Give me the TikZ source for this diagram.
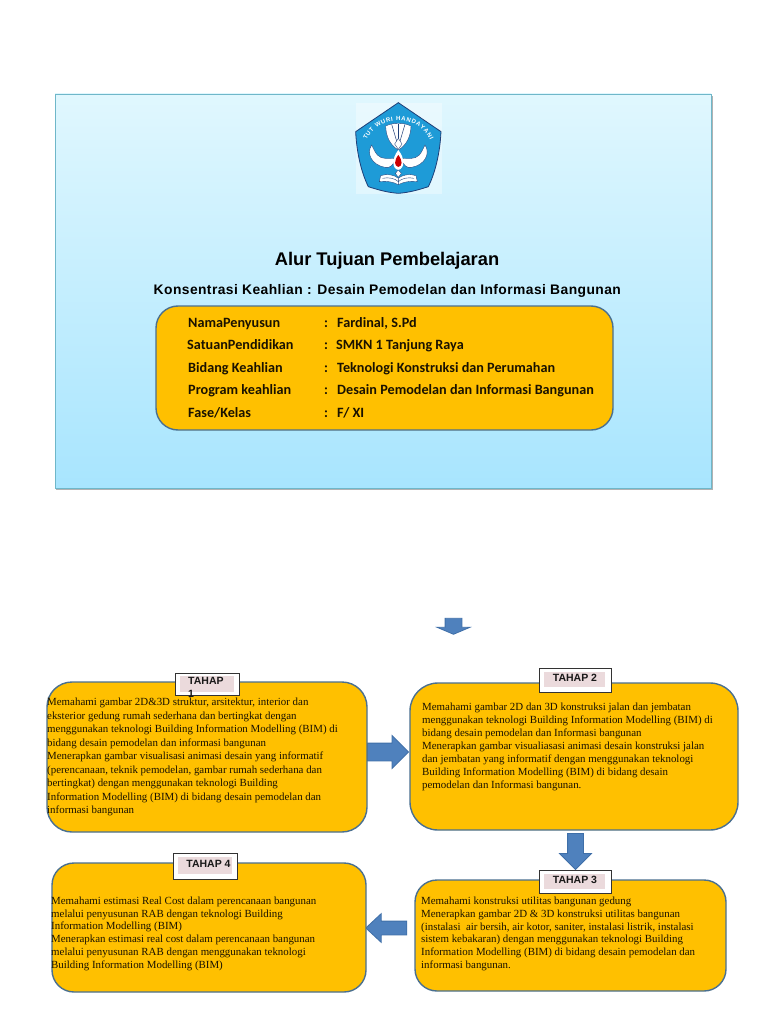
\documentclass[tikz,border=0pt]{standalone}
\usepackage{fontspec}
\setmainfont{Liberation Serif}
\newfontfamily\arialf{Liberation Sans}
\newfontfamily\carlf{Carlito}
\usetikzlibrary{shapes.arrows,decorations.text}
\definecolor{orangefill}{HTML}{FFC000}
\definecolor{boxline}{HTML}{4A7090}
\definecolor{arrowfill}{HTML}{4F81BD}
\definecolor{arrowline}{HTML}{3F6FA8}
\definecolor{pinkfill}{HTML}{EBDADC}
\definecolor{logoblue}{HTML}{1E9BD7}
\definecolor{logoline}{HTML}{1F3F78}
\definecolor{inktext}{HTML}{1A1200}
\definecolor{paneltop}{HTML}{E0F7FE}
\definecolor{panelbot}{HTML}{A8E5FE}
\definecolor{panelline}{HTML}{6FB7C9}
\tikzset{
  orangebox/.style={draw=boxline,line width=1.4pt,fill=orangefill},
  bodytext/.style={anchor=north west,inner sep=0pt,align=left,text=inktext,font=\fontsize{10.9}{#1}\selectfont},
  labelwhite/.style={draw=black!80,line width=1pt,fill=white},
  labelpink/.style={fill=pinkfill},
  tahaptext/.style={inner sep=0pt,font=\arialf\bfseries\fontsize{10.5}{13}\selectfont,text=black!90},
  blockarrow/.style={single arrow,draw=arrowline,line width=.8pt,fill=arrowfill,inner xsep=0pt,outer sep=0pt},
  rowtext/.style={anchor=base west,inner sep=0pt,font=\carlf\bfseries\fontsize{14.2}{16}\selectfont,text=inktext},
  logowhite/.style={fill=white,draw=logoline,line width=.35pt}
}
\begin{document}
\begin{tikzpicture}[x=1pt,y=-1pt]
\useasboundingbox (0,0) rectangle (768,1024);
\fill[white] (0,0) rectangle (768,1024);
% main panel
\fill[black!30] (56,96) rectangle (712.5,490);
\path[top color=paneltop,bottom color=panelbot,draw=panelline,line width=.8pt]
  (55,94) rectangle (711,488);
% logo
\fill[white,opacity=.35] (356,103) rectangle (442,194);
\begin{scope}[shift={(340,90)},x=.3333pt,y=-.3333pt]
  \draw[fill=logoblue,draw=logoline,line width=.8pt]
    (175,38) -- (303,125) .. controls (300,190) and (285,250) .. (265,290)
    .. controls (235,300) and (205,308) .. (175,310)
    .. controls (145,308) and (115,300) .. (85,290)
    .. controls (65,250) and (50,190) .. (47,125) -- cycle;
  % feather fan
  \draw[logowhite] (137,108) .. controls (160,97) and (190,97) .. (213,108)
    .. controls (212,140) and (200,165) .. (175,180)
    .. controls (150,165) and (138,140) .. (137,108) -- cycle;
  \foreach \xx in {155,175,195}
    \draw[logoline,line width=.5pt] (\xx,103) -- (175,170);
  \draw[logowhite] (175,145) -- (186,162) -- (175,178) -- (164,162) -- cycle;
  % wings
  \draw[logowhite] (95,165) .. controls (78,190) and (95,225) .. (135,232)
    .. controls (150,236) and (160,225) .. (168,205)
    .. controls (150,205) and (125,210) .. (112,195)
    .. controls (105,187) and (100,175) .. (95,165) -- cycle;
  \draw[logowhite] (255,165) .. controls (272,190) and (255,225) .. (215,232)
    .. controls (200,236) and (190,225) .. (182,205)
    .. controls (200,205) and (225,210) .. (238,195)
    .. controls (245,187) and (250,175) .. (255,165) -- cycle;
  % flame
  \fill[white] (175,180) .. controls (195,205) and (195,235) .. (175,240)
    .. controls (155,235) and (155,205) .. (175,180) -- cycle;
  \fill[red!80!black] (175,195) .. controls (188,212) and (188,228) .. (175,231)
    .. controls (162,228) and (162,212) .. (175,195) -- cycle;
  \draw[logowhite] (175,240) -- (184,250) -- (175,262) -- (166,250) -- cycle;
  % book
  \draw[logowhite] (122,257) .. controls (140,250) and (165,255) .. (175,265)
    .. controls (185,255) and (210,250) .. (228,257) -- (232,275)
    .. controls (210,272) and (190,276) .. (175,284)
    .. controls (160,276) and (140,272) .. (118,275) -- cycle;
  \draw[logoline,line width=.4pt] (175,265) -- (175,284) (128,265) .. controls (145,261) and (165,265) .. (175,275)
    .. controls (185,265) and (205,261) .. (222,265);
  % ring text
  \path[postaction={decorate},decoration={text along path,text align={fit to path},
      text={|\arialf\bfseries\fontsize{6}{7}\selectfont\color{white}|TUT WURI HANDAYANI}}]
    (80,150) .. controls (115,72) and (235,72) .. (270,150);
\end{scope}
% titles
\node[inner sep=0pt,font=\arialf\bfseries\fontsize{18.3}{21}\selectfont,text=black] (title) at (387,260.5) {Alur Tujuan Pembelajaran};
\node[inner sep=0pt,font=\arialf\fontsize{13.85}{17}\selectfont,text=black] (subtitle) at (387.5,290.5) {\addfontfeature{LetterSpace=3}\textbf{Konsentrasi Keahlian : Desain Pemodelan dan Informasi Bangunan}};
% header box
\draw[orangebox,rounded corners=22pt] (156,306) rectangle (613,430);
\node[rowtext] (l1) at (188,327) {NamaPenyusun};
\node[rowtext] (c1) at (324,327) {:};
\node[rowtext] (v1) at (337,327) {Fardinal, S.Pd};
\node[rowtext] (l2) at (187,349.5) {SatuanPendidikan};
\node[rowtext] (c2) at (324,349.5) {:};
\node[rowtext] (v2) at (336,349.5) {SMKN 1 Tanjung Raya};
\node[rowtext] (l3) at (188,372) {Bidang Keahlian};
\node[rowtext] (c3) at (324,372) {:};
\node[rowtext] (v3) at (337,372) {Teknologi Konstruksi dan Perumahan};
\node[rowtext] (l4) at (188,394.5) {Program keahlian};
\node[rowtext] (c4) at (324,394.5) {:};
\node[rowtext] (v4) at (337,394.5) {Desain Pemodelan dan Informasi Bangunan};
\node[rowtext] (l5) at (188,417) {Fase/Kelas};
\node[rowtext] (c5) at (324,417) {:};
\node[rowtext] (v5) at (337,417) {F/ XI};
% arrows
\node[blockarrow,rotate=-90,inner ysep=8pt,minimum height=16pt,single arrow head extend=8pt,single arrow tip angle=134] (atop) at (453.5,624.5) {};
\node[blockarrow,inner ysep=8.5pt,minimum height=41pt,single arrow head extend=7.5pt,single arrow tip angle=90] (a12) at (383.5,752) {};
\node[blockarrow,rotate=-90,inner ysep=7.5pt,minimum height=36pt,single arrow head extend=8pt,single arrow tip angle=90] (a23) at (575.5,847.5) {};
\node[blockarrow,rotate=180,inner ysep=6.5pt,minimum height=41pt,single arrow head extend=7.5pt,single arrow tip angle=86] (a34) at (390,928) {};
% stage boxes
\draw[orangebox,rounded corners=25pt] (47,682) rectangle (367,832);
\draw[orangebox,rounded corners=28pt] (410,683) rectangle (738,830);
\draw[orangebox,rounded corners=22pt] (415,880) rectangle (726,991);
\draw[orangebox,rounded corners=22pt] (52,863) rectangle (366,992);
% stage labels
\draw[labelwhite] (175,673) rectangle (239,695);
\fill[labelpink] (180,676) rectangle (234,692);
\node[tahaptext,anchor=north west,align=left] (t1) at (188,677) {TAHAP\\1};
\draw[labelwhite] (539,668) rectangle (611,692);
\fill[labelpink] (544,672) rectangle (605,687);
\node[tahaptext] (t2) at (575,678) {TAHAP 2};
\draw[labelwhite] (539,870) rectangle (611,893);
\fill[labelpink] (544,874) rectangle (605,889);
\node[tahaptext] (t3) at (575,880) {TAHAP 3};
\draw[labelwhite] (173,853) rectangle (237,879);
\fill[labelpink] (178,857) rectangle (232,874);
\node[tahaptext] (t4) at (208.5,864) {TAHAP 4};
% stage texts
\node[bodytext=13.5] (b1) at (47,698) {Memahami gambar 2D\&3D struktur, arsitektur, interior dan\\
eksterior gedung rumah sederhana dan bertingkat dengan\\
menggunakan teknologi Building Information Modelling (BIM) di\\
bidang desain pemodelan dan informasi bangunan\\
Menerapkan gambar visualisasi animasi desain yang informatif\\
(perencanaan, teknik pemodelan, gambar rumah sederhana dan\\
bertingkat) dengan menggunakan teknologi Building\\
Information Modelling (BIM) di bidang desain pemodelan dan\\
informasi bangunan};
\node[bodytext=13] (b2) at (422,703) {Memahami gambar 2D dan 3D konstruksi jalan dan jembatan\\
menggunakan teknologi Building Information Modelling (BIM) di\\
bidang desain pemodelan dan Informasi bangunan\\
Menerapkan gambar visualiasasi animasi desain konstruksi jalan\\
dan jembatan yang informatif dengan menggunakan teknologi\\
Building Information Modelling (BIM) di bidang desain\\
pemodelan dan Informasi bangunan.};
\node[bodytext=12.7] (b3) at (421,897) {Memahami konstruksi utilitas bangunan gedung\\
Menerapkan gambar 2D \& 3D konstruksi utilitas bangunan\\
(instalasi~~air bersih, air kotor, saniter, instalasi listrik, instalasi\\
sistem kebakaran) dengan menggunakan teknologi Building\\
Information Modelling (BIM) di bidang desain pemodelan dan\\
informasi bangunan.};
\node[bodytext=12.8] (b4) at (51,896.5) {Memahami estimasi Real Cost dalam perencanaan bangunan\\
melalui penyusunan RAB dengan teknologi Building\\
Information Modelling (BIM)\\
Menerapkan estimasi real cost dalam perencanaan bangunan\\
melalui penyusunan RAB dengan menggunakan teknologi\\
Building Information Modelling (BIM)};
\end{tikzpicture}
\end{document}
